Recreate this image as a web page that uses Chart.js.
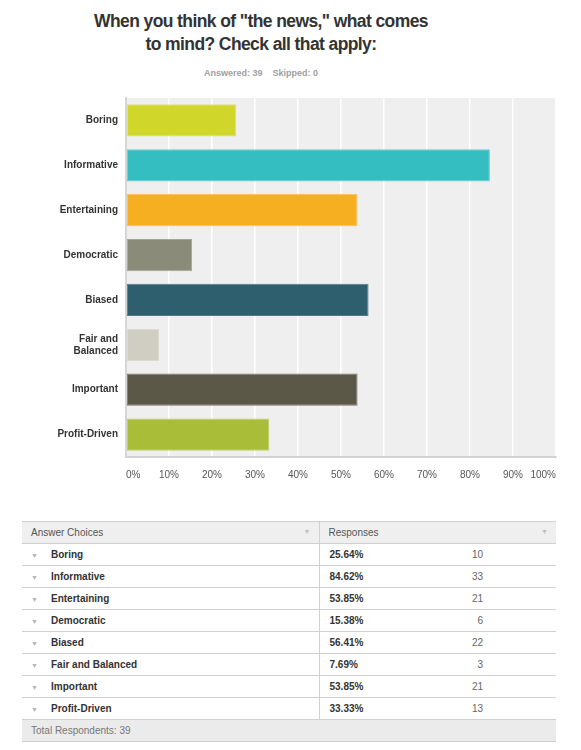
<!DOCTYPE html>
<html>
<head>
<meta charset="utf-8">
<script src="https://cdn.jsdelivr.net/npm/chart.js@4/dist/chart.umd.min.js"></script>
<style>
  html, body { margin: 0; padding: 0; background: #fff; }
  body { width: 581px; height: 750px; position: relative; font-family: "Liberation Sans", Arial, sans-serif; overflow: hidden; }
  #title { position: absolute; left: 0; top: 10px; width: 522px; text-align: center; font-size: 17.5px; letter-spacing: -0.6px; font-weight: bold; color: #333; line-height: 23px; }
  #sub { position: absolute; left: 0; top: 68px; width: 522px; text-align: center; font-size: 9px; font-weight: bold; color: #a0a0a0; }
  #sub span { margin: 0 5px; }
  #chartBox { position: absolute; left: 0; top: 84px; width: 581px; height: 406px; }
  table { position: absolute; left: 22px; top: 521px; width: 534px; border-collapse: collapse; table-layout: fixed; font-size: 10px; color: #333; }
  td { height: 21px; padding: 0; border-bottom: 1px solid #d0d0d0; white-space: nowrap; }
  tr.head td { background: #efefef; border-top: 1px solid #d0d0d0; color: #555; }
  td.c1 { border-right: 1px solid #d0d0d0; }
  .arr { display: inline-block; width: 29px; padding-left: 9px; box-sizing: border-box; color: #b5b5b5; font-size: 7px; }
  .lab { font-weight: bold; }
  .pct { font-weight: bold; padding-left: 10px; }
  .cnt { text-align: right; padding-right: 73px; color: #666; }
  .hd { padding-left: 9px; position: relative; }
  .hd i { position: absolute; right: 8px; top: 6px; font-style: normal; color: #c0c0c0; font-size: 7px; }
  tr.tot td { background: #ebebeb; color: #777; padding-left: 9px; }
</style>
</head>
<body>
<div id="title">When you think of "the news," what comes<br>to mind? Check all that apply:</div>
<div id="sub"><span>Answered: 39</span><span>Skipped: 0</span></div>
<div id="chartBox"><canvas id="chart"></canvas></div>
<table id="tbl">
  <colgroup><col style="width:297px"><col style="width:110px"><col></colgroup>
</table>
<script>
const choices = ['Boring', 'Informative', 'Entertaining', 'Democratic', 'Biased', 'Fair and Balanced', 'Important', 'Profit-Driven'];
const percents = [25.64, 84.62, 53.85, 15.38, 56.41, 7.69, 53.85, 33.33];
const counts = [10, 33, 21, 6, 22, 3, 21, 13];
const xTicks = [0, 10, 20, 30, 40, 50, 60, 70, 80, 90, 100];
const totalRespondents = 39;

// bar colours, one per answer
const fills = ['#d1d62b', '#35bec1', '#f7af22', '#8b8b79', '#2e5f6e', '#d0cec2', '#5b5848', '#aabd39'];
const borders = ['#dde077', '#5fcdcf', '#f9c25a', '#a5a597', '#4f7a86', '#dcdbd1', '#77746a', '#bfcd6c'];

// chart-area grey backdrop
const plotBg = {
  id: 'plotBg',
  beforeDraw(chart) {
    const { ctx, chartArea: a } = chart;
    ctx.save();
    ctx.fillStyle = '#efefef';
    ctx.fillRect(a.left, a.top, a.right - a.left, a.bottom - a.top);
    ctx.restore();
  }
};

new Chart(document.getElementById('chart'), {
  type: 'bar',
  data: {
    labels: choices.map(c => c === 'Fair and Balanced' ? ['Fair and', 'Balanced'] : c),
    datasets: [{
      data: percents,
      backgroundColor: fills,
      borderColor: borders,
      borderWidth: 1,
      borderSkipped: false,
      categoryPercentage: 1,
      barPercentage: 0.72
    }]
  },
  options: {
    indexAxis: 'y',
    responsive: true,
    maintainAspectRatio: false,
    animation: false,
    layout: { padding: { top: 0, right: 25, left: 0, bottom: 0 } },
    plugins: { legend: { display: false }, tooltip: { enabled: false } },
    scales: {
      x: {
        min: 0, max: 100,
        afterBuildTicks: (s) => { s.ticks = xTicks.map(v => ({ value: v })); },
        afterFit: (s) => { s.height = 33; },
        ticks: {
          align: 'inner',
          padding: 12,
          color: '#555',
          font: { family: '"Liberation Sans", Arial, sans-serif', size: 10 },
          callback: (v) => v + '%'
        },
        grid: { color: '#ffffff', lineWidth: 1.5, drawTicks: false },
        border: { color: '#d3d3d3', width: 2 }
      },
      y: {
        afterFit: (s) => { s.width = 126; },
        ticks: {
          padding: 8,
          color: '#333',
          font: { family: '"Liberation Sans", Arial, sans-serif', size: 10, weight: 'bold' }
        },
        grid: { display: false, drawTicks: false },
        border: { color: '#d6d6d6', width: 2 }
      }
    }
  },
  plugins: [plotBg]
});

// response table under the chart
const tbl = document.getElementById('tbl');
let html = '<tr class="head"><td class="c1 hd">Answer Choices<i>&#9660;</i></td><td class="hd" colspan="2">Responses<i>&#9660;</i></td></tr>';
choices.forEach((c, i) => {
  html += '<tr><td class="c1"><span class="arr">&#9660;</span><span class="lab">' + c + '</span></td>' +
    '<td class="pct">' + percents[i].toFixed(2) + '%</td>' +
    '<td class="cnt">' + counts[i] + '</td></tr>';
});
html += '<tr class="tot"><td colspan="3">Total Respondents: ' + totalRespondents + '</td></tr>';
tbl.insertAdjacentHTML('beforeend', html);
</script>
</body>
</html>
